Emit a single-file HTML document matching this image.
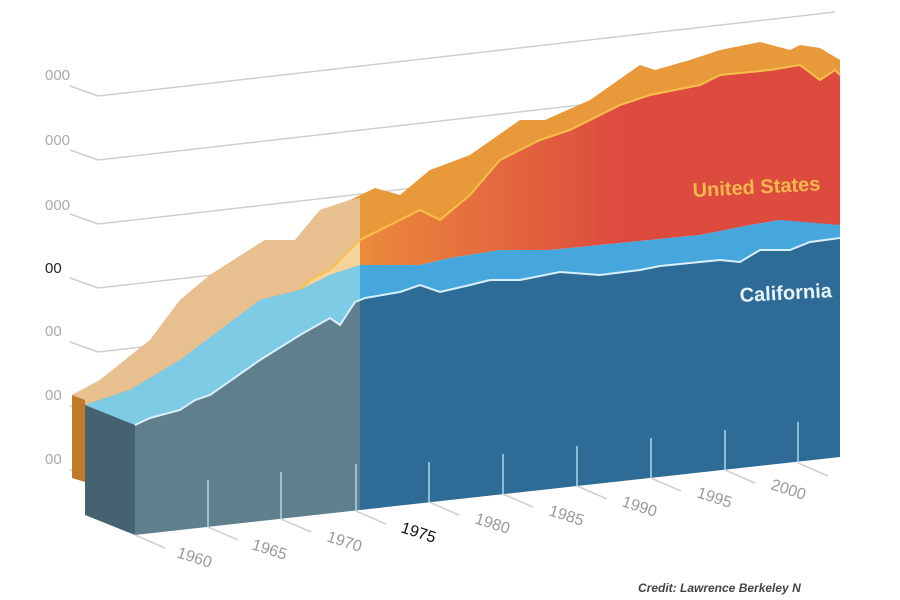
<!DOCTYPE html>
<html><head><meta charset="utf-8"><style>
html,body{margin:0;padding:0;background:#fff;width:900px;height:600px;overflow:hidden}
text{font-family:"Liberation Sans",sans-serif}
</style></head><body>
<svg width="900" height="600" viewBox="0 0 900 600" xmlns="http://www.w3.org/2000/svg">
<defs>
<linearGradient id="us" gradientUnits="userSpaceOnUse" x1="360" y1="0" x2="620" y2="0">
<stop offset="0" stop-color="#eb8a3c"/><stop offset="1" stop-color="#dd4b3e"/>
</linearGradient>
</defs>
<g stroke="#cfcfcf" stroke-width="1.5" fill="none">
<polyline points="70,86 98,96 835,12"/>
<polyline points="70,150 98,160 835,76"/>
<polyline points="70,214 98,224 835,140"/>
<polyline points="70,278 98,288 835,204"/>
<polyline points="70,342 98,352 835,268"/>
<polyline points="70,406 98,416 835,332"/>
<polyline points="70,470 98,480 835,396"/>
</g>
<g fill="#aaa" font-size="15">
<text x="45" y="80">000</text><text x="45" y="145">000</text><text x="45" y="210">000</text>
<text x="45" y="273" fill="#222">00</text><text x="45" y="336">00</text><text x="45" y="400">00</text><text x="45" y="464">00</text>
</g>
<polygon fill="#e89a3a" points="72,395 100,380 150,340 180,300 210,275 265,240 295,240 320,210 350,200 375,188 400,195 430,170 470,155 520,120 545,120 590,100 640,65 655,70 690,60 720,50 745,45 760,42 790,50 800,45 820,48 840,60 840,80 820,80 800,65 770,70 720,75 700,85 650,95 620,105 600,115 570,130 540,140 520,150 500,160 470,195 440,220 420,210 390,225 360,240 330,270 310,280 290,300 200,360 100,410 72,400"/>
<polygon fill="#e8c08f" points="72,395 100,380 150,340 180,300 210,275 265,240 295,240 320,210 350,200 360,198 360,240 330,270 310,280 290,300 200,360 100,410 72,400"/>
<polygon fill="url(#us)" points="360,240 390,225 420,210 440,220 470,195 500,160 520,150 540,140 570,130 600,115 620,105 650,95 700,85 720,75 770,70 800,65 820,80 835,70 840,75 840,230 780,220 750,225 700,235 650,240 600,245 550,250 500,250 450,258 420,265 360,265"/>
<polygon fill="#f5d39c" points="290,300 310,280 330,270 360,240 360,270 330,280 300,295"/>
<polyline fill="none" stroke="#f7c04a" stroke-width="2" points="290,300 310,280 330,270 360,240 390,225 420,210 440,220 470,195 500,160 520,150 540,140 570,130 600,115 620,105 650,95 700,85 720,75 770,70 800,65 820,80 835,70 840,75"/>
<polygon fill="#c07a2a" points="72,395 85,400 85,482 72,478"/>
<polygon fill="#45a7dc" points="85,405 130,390 180,360 220,330 260,300 300,290 330,275 360,265 420,265 450,258 500,250 550,250 600,245 650,240 700,235 750,225 780,220 840,225 840,238 810,242 790,250 760,250 740,262 720,260 700,262 660,266 640,270 600,275 560,272 520,280 490,280 470,285 440,292 420,285 400,292 365,298 355,302 340,325 330,318 300,335 260,360 210,395 195,400 180,410 150,418 135,425"/>
<polygon fill="#7ecbe6" points="85,405 130,390 180,360 220,330 260,300 300,290 330,275 360,265 360,300 355,302 340,325 330,318 300,335 260,360 210,395 195,400 180,410 150,418 135,425"/>
<polygon fill="#2e6b96" points="355,302 365,298 400,292 420,285 440,292 470,285 490,280 520,280 560,272 600,275 640,270 660,266 700,262 720,260 740,262 760,250 790,250 810,242 840,238 840,457 360,510 355,510"/>
<polygon fill="#5f7f8d" points="135,425 150,418 180,410 195,400 210,395 260,360 300,335 330,318 340,325 355,302 360,300 360,510 135,535"/>
<polyline fill="none" stroke="#d8f0fb" stroke-width="2" points="135,425 150,418 180,410 195,400 210,395 260,360 300,335 330,318 340,325 355,302 365,298 400,292 420,285 440,292 470,285 490,280 520,280 560,272 600,275 640,270 660,266 700,262 720,260 740,262 760,250 790,250 810,242 840,238"/>
<polygon fill="#456270" points="85,405 135,425 135,535 85,515"/>
<g stroke="#a8d8ee" stroke-width="1.5">
<line x1="208" y1="480" x2="208" y2="527"/><line x1="281" y1="472" x2="281" y2="519"/><line x1="356" y1="464" x2="356" y2="511"/>
<line x1="429" y1="462" x2="429" y2="502"/><line x1="503" y1="454" x2="503" y2="494"/><line x1="577" y1="446" x2="577" y2="486"/>
<line x1="651" y1="438" x2="651" y2="478"/><line x1="725" y1="430" x2="725" y2="470"/><line x1="798" y1="422" x2="798" y2="463"/>
</g>
<g stroke="#cfcfcf" stroke-width="1.5">
<line x1="135" y1="535" x2="165" y2="548"/><line x1="208" y1="527" x2="238" y2="540"/><line x1="281" y1="519" x2="311" y2="532"/><line x1="356" y1="511" x2="386" y2="524"/>
<line x1="429" y1="502" x2="459" y2="515"/><line x1="503" y1="494" x2="533" y2="507"/><line x1="577" y1="486" x2="607" y2="499"/><line x1="651" y1="478" x2="681" y2="491"/><line x1="725" y1="470" x2="755" y2="483"/><line x1="798" y1="463" x2="828" y2="476"/>
</g>
<g fill="#999" font-size="16">
<text transform="translate(176,557) rotate(18)">1960</text>
<text transform="translate(251,549) rotate(18)">1965</text>
<text transform="translate(326,541) rotate(18)">1970</text>
<text transform="translate(400,532) rotate(18)" fill="#111">1975</text>
<text transform="translate(474,523) rotate(18)">1980</text>
<text transform="translate(548,515) rotate(18)">1985</text>
<text transform="translate(621,506) rotate(18)">1990</text>
<text transform="translate(696,497) rotate(18)">1995</text>
<text transform="translate(770,489) rotate(18)">2000</text>
</g>
<text transform="translate(693,197) rotate(-3)" fill="#f2b84c" font-size="20" font-weight="bold">United States</text>
<text transform="translate(740,302) rotate(-3)" fill="#e8f4fa" font-size="20" font-weight="bold">California</text>
<text x="638" y="592" fill="#444" font-size="12" font-style="italic" font-weight="bold">Credit: Lawrence Berkeley N</text>
<rect x="842" y="0" width="58" height="600" fill="#fff"/>
</svg>
</body></html>
